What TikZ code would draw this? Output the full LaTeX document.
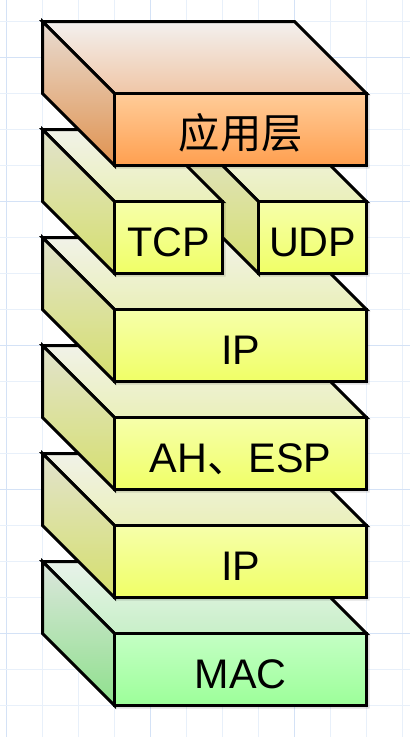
\documentclass[tikz,border=0pt]{standalone}
\usepackage{fontspec}
\setmainfont{Liberation Sans}
\newfontfamily\cjk{Noto Sans CJK SC}
\usepackage{xcolor}

\definecolor{orgFrontA}{HTML}{FFCC99}
\definecolor{orgFrontB}{HTML}{FF9F4F}
\definecolor{orgTopA}{HTML}{F3F0EE}
\definecolor{orgTopB}{HTML}{F0C6A6}
\definecolor{orgSideA}{HTML}{E8DCD2}
\definecolor{orgSideB}{HTML}{E0924F}
\definecolor{ylwFrontA}{HTML}{F6FFAA}
\definecolor{ylwFrontB}{HTML}{F0FF66}
\definecolor{ylwTopA}{HTML}{F1F2E8}
\definecolor{ylwTopB}{HTML}{EAF0BA}
\definecolor{ylwSideA}{HTML}{E2E3CD}
\definecolor{ylwSideB}{HTML}{D5DF6C}
\definecolor{grnFrontA}{HTML}{C4FFC4}
\definecolor{grnFrontB}{HTML}{9CFF99}
\definecolor{grnTopA}{HTML}{E8F2EA}
\definecolor{grnTopB}{HTML}{C8F0C8}
\definecolor{grnSideA}{HTML}{DCE6DD}
\definecolor{grnSideB}{HTML}{8EE08C}

\tikzset{
  cube edge/.style={draw=black,line width=2.25pt},
  cube shadow/.style={fill=black,opacity=0.12},
  layer label/.style={anchor=base,inner sep=0pt,font=\fontsize{31}{36}\selectfont},
  grid minor/.style={draw={rgb,255:red,232;green,240;blue,250},line width=0.75pt},
  grid major/.style={draw={rgb,255:red,212;green,226;blue,246},line width=0.75pt},
}

% one layer block: back left x, front right x, back top y, colour prefix
\newcommand{\layerbox}[4]{%
  \fill[cube shadow] ({#1+3},{#3+3}) -- ({#2-69},{#3+3}) -- ({#2+3},{#3+75}) -- ({#2+3},{#3+147}) -- ({#1+75},{#3+147}) -- ({#1+3},{#3+75}) -- cycle;
  \draw[cube edge,top color=#4TopA,bottom color=#4TopB] (#1,#3) -- ({#2-72},#3) -- (#2,{#3+72}) -- ({#1+72},{#3+72}) -- cycle;
  \draw[cube edge,top color=#4SideA,bottom color=#4SideB] (#1,#3) -- ({#1+72},{#3+72}) -- ({#1+72},{#3+144}) -- (#1,{#3+72}) -- cycle;
  \draw[cube edge,top color=#4FrontA,bottom color=#4FrontB] ({#1+72},{#3+72}) rectangle (#2,{#3+144});
}

\begin{document}
\begin{tikzpicture}[x=0.75pt,y=0.75pt,yscale=-1,xscale=1]
        \useasboundingbox (0,0) rectangle (410,737);
        \fill[white] (0,0) rectangle (410,737);
        
        %Grid
        \foreach \k in {0,...,11} {
          \pgfmathtruncatemacro{\m}{mod(\k,4)}
          \ifnum\m=0 \draw[grid major] ({6.7+36*\k},0) -- ({6.7+36*\k},737);
          \else \draw[grid minor] ({6.7+36*\k},0) -- ({6.7+36*\k},737); \fi
        }
        \foreach \k in {0,...,19} {
          \pgfmathtruncatemacro{\m}{mod(\k,4)}
          \ifnum\m=1 \draw[grid major] (0,{21.7+36*\k}) -- (410,{21.7+36*\k});
          \else \draw[grid minor] (0,{21.7+36*\k}) -- (410,{21.7+36*\k}); \fi
        }
        
        %Shape: Cube [MAC]
        \layerbox{42.7}{366.7}{561.7}{grn}
        %Shape: Cube [IP lower]
        \layerbox{42.7}{366.7}{453.7}{ylw}
        %Shape: Cube [AH, ESP]
        \layerbox{42.7}{366.7}{345.7}{ylw}
        %Shape: Cube [IP upper]
        \layerbox{42.7}{366.7}{237.7}{ylw}
        %Shape: Cube [UDP]
        \layerbox{186.7}{366.7}{129.7}{ylw}
        %Shape: Cube [TCP]
        \layerbox{42.7}{222.7}{129.7}{ylw}
        %Shape: Cube [application layer]
        \layerbox{42.7}{366.7}{21.7}{org}
        
        % Text Node
        \node[layer label] (app) at (240.7,148.7) {\cjk 应用层};
        % Text Node
        \node[layer label] (tcp) at (168.7,256.7) {TCP};
        % Text Node
        \node[layer label] (udp) at (312.7,256.7) {UDP};
        % Text Node
        \node[layer label] (ipup) at (240.7,364.7) {IP};
        % Text Node
        \node[layer label] (ahesp) at (240.7,472.7) {AH{\cjk 、}ESP};
        % Text Node
        \node[layer label] (iplow) at (240.7,580.7) {IP};
        % Text Node
        \node[layer label] (mac) at (240.7,688.7) {MAC};
        
\end{tikzpicture}
\end{document}
